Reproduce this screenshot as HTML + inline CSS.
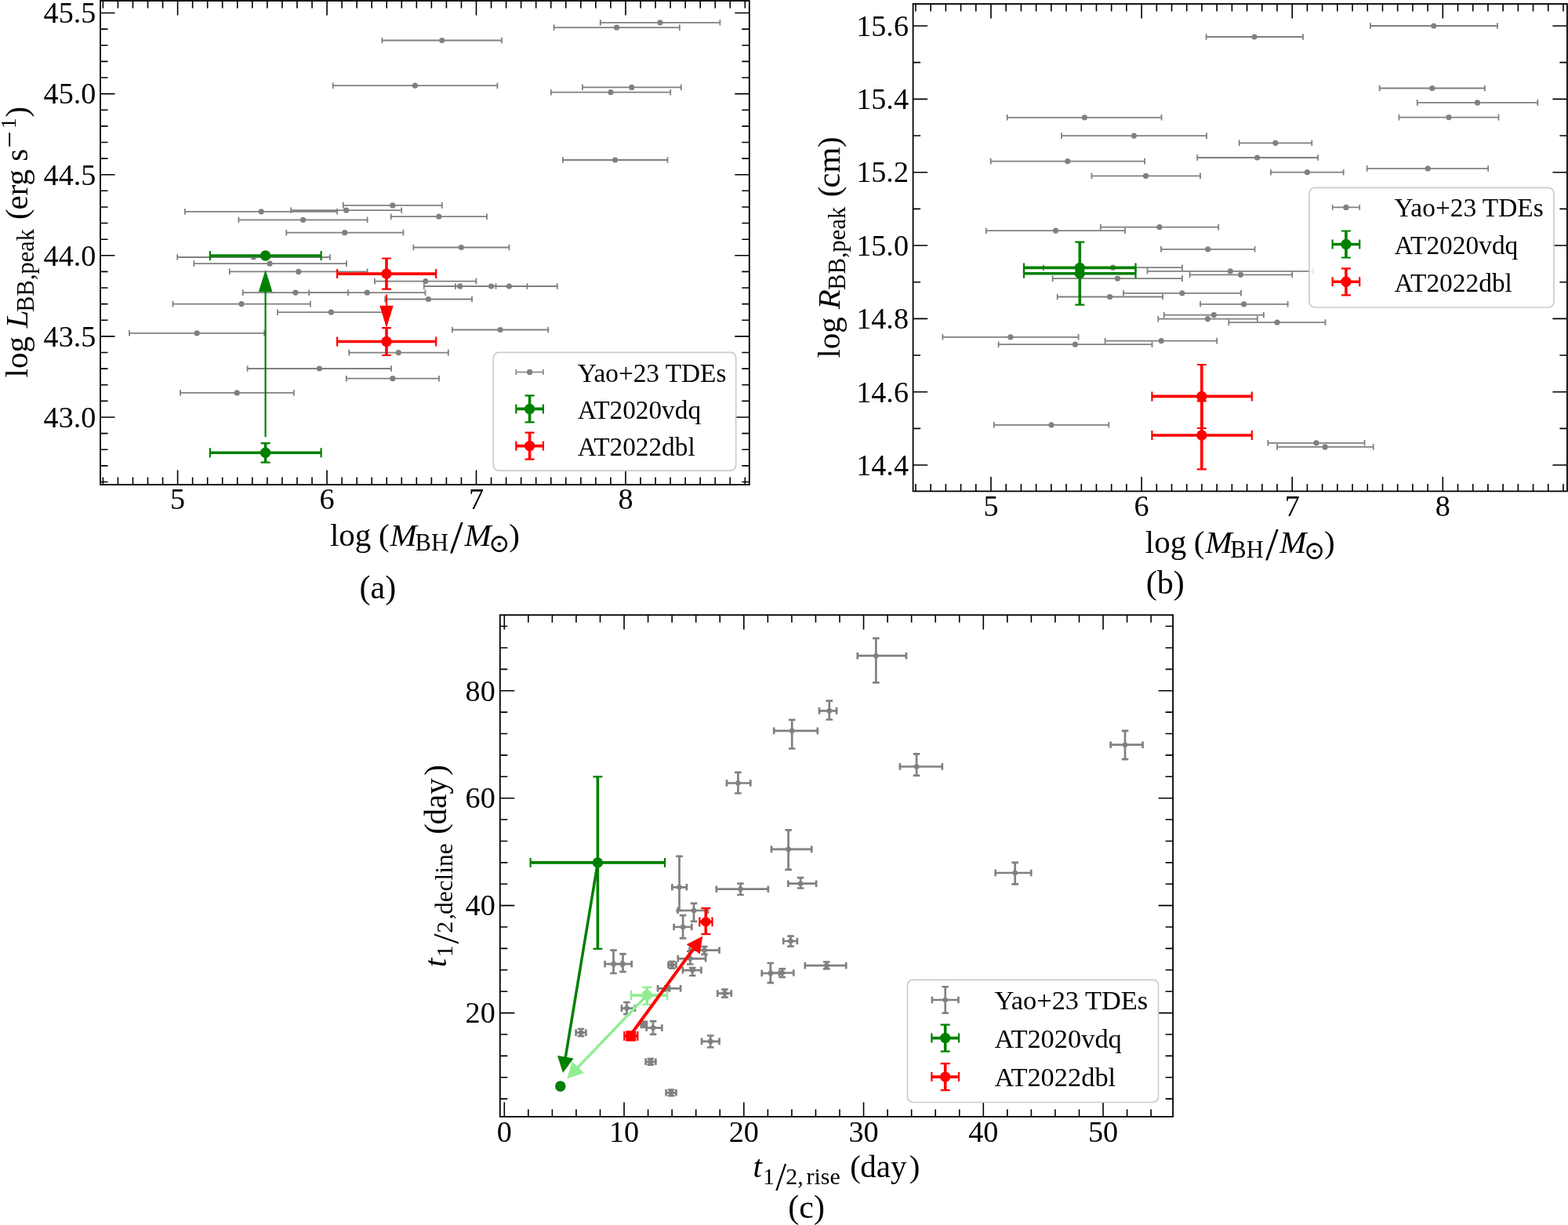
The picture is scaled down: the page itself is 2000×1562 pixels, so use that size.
<!DOCTYPE html>
<html><head><meta charset="utf-8"><title>figure</title>
<style>html,body{margin:0;padding:0;background:#fff;overflow:hidden}svg{display:block}</style></head>
<body><svg width="2000" height="1562" viewBox="0 0 2000 1562" font-family="'Liberation Serif', serif" fill="#000">
<rect width="2000" height="1562" fill="#fff"/>
<clipPath id="ca"><rect x="128.0" y="1.0" width="827.8" height="617.0"/></clipPath>
<g clip-path="url(#ca)">
<path d="M765.8 28.8H918.4" stroke="#808080" stroke-width="1.8" fill="none"/>
<path d="M765.8 25V32.6M918.4 25V32.6" stroke="#808080" stroke-width="1.8" fill="none"/>
<circle cx="842" cy="28.8" r="3.6" fill="#808080"/>
<path d="M706.6 35.1H866.8" stroke="#808080" stroke-width="1.8" fill="none"/>
<path d="M706.6 31.3V38.9M866.8 31.3V38.9" stroke="#808080" stroke-width="1.8" fill="none"/>
<circle cx="786.6" cy="35.1" r="3.6" fill="#808080"/>
<path d="M487.3 51.5H640" stroke="#808080" stroke-width="1.8" fill="none"/>
<path d="M487.3 47.7V55.3M640 47.7V55.3" stroke="#808080" stroke-width="1.8" fill="none"/>
<circle cx="563.7" cy="51.5" r="3.6" fill="#808080"/>
<path d="M424.7 109.2H634.4" stroke="#808080" stroke-width="1.8" fill="none"/>
<path d="M424.7 105.4V113M634.4 105.4V113" stroke="#808080" stroke-width="1.8" fill="none"/>
<circle cx="529.4" cy="109.2" r="3.6" fill="#808080"/>
<path d="M743 111.4H868.8" stroke="#808080" stroke-width="1.8" fill="none"/>
<path d="M743 107.6V115.2M868.8 107.6V115.2" stroke="#808080" stroke-width="1.8" fill="none"/>
<circle cx="805.7" cy="111.4" r="3.6" fill="#808080"/>
<path d="M702.8 117.7H855.2" stroke="#808080" stroke-width="1.8" fill="none"/>
<path d="M702.8 113.9V121.5M855.2 113.9V121.5" stroke="#808080" stroke-width="1.8" fill="none"/>
<circle cx="779" cy="117.7" r="3.6" fill="#808080"/>
<path d="M717.9 204H851.5" stroke="#808080" stroke-width="1.8" fill="none"/>
<path d="M717.9 200.2V207.8M851.5 200.2V207.8" stroke="#808080" stroke-width="1.8" fill="none"/>
<circle cx="784.6" cy="204" r="3.6" fill="#808080"/>
<path d="M437.8 261.9H563.8" stroke="#808080" stroke-width="1.8" fill="none"/>
<path d="M437.8 258.1V265.7M563.8 258.1V265.7" stroke="#808080" stroke-width="1.8" fill="none"/>
<circle cx="500.8" cy="261.9" r="3.6" fill="#808080"/>
<path d="M371.2 268.2H512.2" stroke="#808080" stroke-width="1.8" fill="none"/>
<path d="M371.2 264.4V272M512.2 264.4V272" stroke="#808080" stroke-width="1.8" fill="none"/>
<circle cx="441.6" cy="268.2" r="3.6" fill="#808080"/>
<path d="M235.9 269.8H430" stroke="#808080" stroke-width="1.8" fill="none"/>
<path d="M235.9 266V273.6M430 266V273.6" stroke="#808080" stroke-width="1.8" fill="none"/>
<circle cx="333.2" cy="269.8" r="3.6" fill="#808080"/>
<path d="M498.7 276.2H621" stroke="#808080" stroke-width="1.8" fill="none"/>
<path d="M498.7 272.4V280M621 272.4V280" stroke="#808080" stroke-width="1.8" fill="none"/>
<circle cx="559.8" cy="276.2" r="3.6" fill="#808080"/>
<path d="M304.4 280.3H468.6" stroke="#808080" stroke-width="1.8" fill="none"/>
<path d="M304.4 276.5V284.1M468.6 276.5V284.1" stroke="#808080" stroke-width="1.8" fill="none"/>
<circle cx="386.5" cy="280.3" r="3.6" fill="#808080"/>
<path d="M365.3 296.7H514.4" stroke="#808080" stroke-width="1.8" fill="none"/>
<path d="M365.3 292.9V300.5M514.4 292.9V300.5" stroke="#808080" stroke-width="1.8" fill="none"/>
<circle cx="439.7" cy="296.7" r="3.6" fill="#808080"/>
<path d="M527.3 315.5H649.5" stroke="#808080" stroke-width="1.8" fill="none"/>
<path d="M527.3 311.7V319.3M649.5 311.7V319.3" stroke="#808080" stroke-width="1.8" fill="none"/>
<circle cx="588.3" cy="315.5" r="3.6" fill="#808080"/>
<path d="M226.2 328H421" stroke="#808080" stroke-width="1.8" fill="none"/>
<path d="M226.2 324.2V331.8M421 324.2V331.8" stroke="#808080" stroke-width="1.8" fill="none"/>
<circle cx="323.4" cy="328" r="3.6" fill="#808080"/>
<path d="M247.4 336.1H442" stroke="#808080" stroke-width="1.8" fill="none"/>
<path d="M247.4 332.3V339.9M442 332.3V339.9" stroke="#808080" stroke-width="1.8" fill="none"/>
<circle cx="344.1" cy="336.1" r="3.6" fill="#808080"/>
<path d="M292.8 346.4H468.6" stroke="#808080" stroke-width="1.8" fill="none"/>
<path d="M292.8 342.6V350.2M468.6 342.6V350.2" stroke="#808080" stroke-width="1.8" fill="none"/>
<circle cx="380.7" cy="346.4" r="3.6" fill="#808080"/>
<path d="M477.9 358.6H607.4" stroke="#808080" stroke-width="1.8" fill="none"/>
<path d="M477.9 354.8V362.4M607.4 354.8V362.4" stroke="#808080" stroke-width="1.8" fill="none"/>
<circle cx="542.8" cy="358.6" r="3.6" fill="#808080"/>
<path d="M540.8 365H632.5" stroke="#808080" stroke-width="1.8" fill="none"/>
<path d="M540.8 361.2V368.8M632.5 361.2V368.8" stroke="#808080" stroke-width="1.8" fill="none"/>
<circle cx="586.5" cy="365" r="3.6" fill="#808080"/>
<path d="M580.9 365H672.5" stroke="#808080" stroke-width="1.8" fill="none"/>
<path d="M580.9 361.2V368.8M672.5 361.2V368.8" stroke="#808080" stroke-width="1.8" fill="none"/>
<circle cx="626.5" cy="365" r="3.6" fill="#808080"/>
<path d="M588.2 365H710.8" stroke="#808080" stroke-width="1.8" fill="none"/>
<path d="M588.2 361.2V368.8M710.8 361.2V368.8" stroke="#808080" stroke-width="1.8" fill="none"/>
<circle cx="649.5" cy="365" r="3.6" fill="#808080"/>
<path d="M309.7 373.1H444" stroke="#808080" stroke-width="1.8" fill="none"/>
<path d="M309.7 369.3V376.9M444 369.3V376.9" stroke="#808080" stroke-width="1.8" fill="none"/>
<circle cx="376.9" cy="373.1" r="3.6" fill="#808080"/>
<path d="M394.2 373.2H542.5" stroke="#808080" stroke-width="1.8" fill="none"/>
<path d="M394.2 369.4V377M542.5 369.4V377" stroke="#808080" stroke-width="1.8" fill="none"/>
<circle cx="468.3" cy="373.2" r="3.6" fill="#808080"/>
<path d="M491.2 381.5H602" stroke="#808080" stroke-width="1.8" fill="none"/>
<path d="M491.2 377.7V385.3M602 377.7V385.3" stroke="#808080" stroke-width="1.8" fill="none"/>
<circle cx="546.4" cy="381.5" r="3.6" fill="#808080"/>
<path d="M220.5 387.6H395.9" stroke="#808080" stroke-width="1.8" fill="none"/>
<path d="M220.5 383.8V391.4M395.9 383.8V391.4" stroke="#808080" stroke-width="1.8" fill="none"/>
<circle cx="308" cy="387.6" r="3.6" fill="#808080"/>
<path d="M354.1 398.2H490.5" stroke="#808080" stroke-width="1.8" fill="none"/>
<path d="M354.1 394.4V402M490.5 394.4V402" stroke="#808080" stroke-width="1.8" fill="none"/>
<circle cx="422.3" cy="398.2" r="3.6" fill="#808080"/>
<path d="M165 424.8H337.2" stroke="#808080" stroke-width="1.8" fill="none"/>
<path d="M165 421V428.6M337.2 421V428.6" stroke="#808080" stroke-width="1.8" fill="none"/>
<circle cx="251.2" cy="424.8" r="3.6" fill="#808080"/>
<path d="M576.9 420.5H699.3" stroke="#808080" stroke-width="1.8" fill="none"/>
<path d="M576.9 416.7V424.3M699.3 416.7V424.3" stroke="#808080" stroke-width="1.8" fill="none"/>
<circle cx="638.1" cy="420.5" r="3.6" fill="#808080"/>
<path d="M445.3 449.6H571.8" stroke="#808080" stroke-width="1.8" fill="none"/>
<path d="M445.3 445.8V453.4M571.8 445.8V453.4" stroke="#808080" stroke-width="1.8" fill="none"/>
<circle cx="508.3" cy="449.6" r="3.6" fill="#808080"/>
<path d="M315.6 470H499" stroke="#808080" stroke-width="1.8" fill="none"/>
<path d="M315.6 466.2V473.8M499 466.2V473.8" stroke="#808080" stroke-width="1.8" fill="none"/>
<circle cx="407.3" cy="470" r="3.6" fill="#808080"/>
<path d="M441.8 482.7H560" stroke="#808080" stroke-width="1.8" fill="none"/>
<path d="M441.8 478.9V486.5M560 478.9V486.5" stroke="#808080" stroke-width="1.8" fill="none"/>
<circle cx="500.9" cy="482.7" r="3.6" fill="#808080"/>
<path d="M230 500.9H374.8" stroke="#808080" stroke-width="1.8" fill="none"/>
<path d="M230 497.1V504.7M374.8 497.1V504.7" stroke="#808080" stroke-width="1.8" fill="none"/>
<circle cx="302.3" cy="500.9" r="3.6" fill="#808080"/>
<path d="M267.9 326H409.6" stroke="#008000" stroke-width="3.6" fill="none"/>
<path d="M267.9 320V332M409.6 320V332" stroke="#008000" stroke-width="2.2" fill="none"/>
<circle cx="338.6" cy="326" r="6.7" fill="#008000"/>
<path d="M267.9 577.3H409.6M338.6 565.1V589.6" stroke="#008000" stroke-width="3.6" fill="none"/>
<path d="M267.9 571.3V583.3M409.6 571.3V583.3M332.6 565.1H344.6M332.6 589.6H344.6" stroke="#008000" stroke-width="2.2" fill="none"/>
<circle cx="338.6" cy="577.3" r="6.7" fill="#008000"/>
<path d="M430.1 349.1H556.2M493 329.5V368.6" stroke="#ff0000" stroke-width="3.6" fill="none"/>
<path d="M430.1 343.1V355.1M556.2 343.1V355.1M487 329.5H499M487 368.6H499" stroke="#ff0000" stroke-width="2.2" fill="none"/>
<circle cx="493" cy="349.1" r="6.7" fill="#ff0000"/>
<path d="M430.1 435.5H556.2M493 418.2V453" stroke="#ff0000" stroke-width="3.6" fill="none"/>
<path d="M430.1 429.5V441.5M556.2 429.5V441.5M487 418.2H499M487 453H499" stroke="#ff0000" stroke-width="2.2" fill="none"/>
<circle cx="493" cy="435.5" r="6.7" fill="#ff0000"/>
<line x1="338.6" y1="557.3" x2="338.6" y2="371.4" stroke="#008000" stroke-width="2.2"/>
<polygon points="338.6,343.9 347.35,371.9 329.85,371.9" fill="#008000"/>
<line x1="493" y1="375.5" x2="493" y2="390.3" stroke="#ff0000" stroke-width="2.2"/>
<polygon points="493,418.3 484.35,389.8 501.65,389.8" fill="#ff0000"/>
</g>
<path d="M131.38 618v-9.5M131.38 1v9.5M150.42 618v-9.5M150.42 1v9.5M169.47 618v-9.5M169.47 1v9.5M188.51 618v-9.5M188.51 1v9.5M207.56 618v-9.5M207.56 1v9.5M226.6 618v-9.5M226.6 1v9.5M245.64 618v-9.5M245.64 1v9.5M264.69 618v-9.5M264.69 1v9.5M283.73 618v-9.5M283.73 1v9.5M302.78 618v-9.5M302.78 1v9.5M321.82 618v-9.5M321.82 1v9.5M340.87 618v-9.5M340.87 1v9.5M359.92 618v-9.5M359.92 1v9.5M378.96 618v-9.5M378.96 1v9.5M398.01 618v-9.5M398.01 1v9.5M417.05 618v-9.5M417.05 1v9.5M436.09 618v-9.5M436.09 1v9.5M455.14 618v-9.5M455.14 1v9.5M474.18 618v-9.5M474.18 1v9.5M493.23 618v-9.5M493.23 1v9.5M512.27 618v-9.5M512.27 1v9.5M531.32 618v-9.5M531.32 1v9.5M550.37 618v-9.5M550.37 1v9.5M569.41 618v-9.5M569.41 1v9.5M588.46 618v-9.5M588.46 1v9.5M607.5 618v-9.5M607.5 1v9.5M626.54 618v-9.5M626.54 1v9.5M645.59 618v-9.5M645.59 1v9.5M664.64 618v-9.5M664.64 1v9.5M683.68 618v-9.5M683.68 1v9.5M702.73 618v-9.5M702.73 1v9.5M721.77 618v-9.5M721.77 1v9.5M740.82 618v-9.5M740.82 1v9.5M759.86 618v-9.5M759.86 1v9.5M778.91 618v-9.5M778.91 1v9.5M797.95 618v-9.5M797.95 1v9.5M816.99 618v-9.5M816.99 1v9.5M836.04 618v-9.5M836.04 1v9.5M855.09 618v-9.5M855.09 1v9.5M874.13 618v-9.5M874.13 1v9.5M893.17 618v-9.5M893.17 1v9.5M912.22 618v-9.5M912.22 1v9.5M931.26 618v-9.5M931.26 1v9.5M950.31 618v-9.5M950.31 1v9.5M128 614.48h9.5M955.8 614.48h-9.5M128 593.86h9.5M955.8 593.86h-9.5M128 573.24h9.5M955.8 573.24h-9.5M128 552.62h9.5M955.8 552.62h-9.5M128 532h9.5M955.8 532h-9.5M128 511.38h9.5M955.8 511.38h-9.5M128 490.76h9.5M955.8 490.76h-9.5M128 470.14h9.5M955.8 470.14h-9.5M128 449.52h9.5M955.8 449.52h-9.5M128 428.9h9.5M955.8 428.9h-9.5M128 408.28h9.5M955.8 408.28h-9.5M128 387.66h9.5M955.8 387.66h-9.5M128 367.04h9.5M955.8 367.04h-9.5M128 346.42h9.5M955.8 346.42h-9.5M128 325.8h9.5M955.8 325.8h-9.5M128 305.18h9.5M955.8 305.18h-9.5M128 284.56h9.5M955.8 284.56h-9.5M128 263.94h9.5M955.8 263.94h-9.5M128 243.32h9.5M955.8 243.32h-9.5M128 222.7h9.5M955.8 222.7h-9.5M128 202.08h9.5M955.8 202.08h-9.5M128 181.46h9.5M955.8 181.46h-9.5M128 160.84h9.5M955.8 160.84h-9.5M128 140.22h9.5M955.8 140.22h-9.5M128 119.6h9.5M955.8 119.6h-9.5M128 98.98h9.5M955.8 98.98h-9.5M128 78.36h9.5M955.8 78.36h-9.5M128 57.74h9.5M955.8 57.74h-9.5M128 37.12h9.5M955.8 37.12h-9.5M128 16.5h9.5M955.8 16.5h-9.5M226.6 618v-18.5M226.6 1v18.5M417.05 618v-18.5M417.05 1v18.5M607.5 618v-18.5M607.5 1v18.5M797.95 618v-18.5M797.95 1v18.5M128 532h18.5M955.8 532h-18.5M128 428.9h18.5M955.8 428.9h-18.5M128 325.8h18.5M955.8 325.8h-18.5M128 222.7h18.5M955.8 222.7h-18.5M128 119.6h18.5M955.8 119.6h-18.5M128 16.5h18.5M955.8 16.5h-18.5" stroke="#000" stroke-width="1.6" fill="none"/>
<rect x="128" y="1" width="827.8" height="617" fill="none" stroke="#000" stroke-width="1.8"/>
<rect x="629.3" y="449.4" width="309.4" height="150.7" rx="7" ry="7" fill="#fff" fill-opacity="0.8" stroke="#cccccc" stroke-width="1.7"/>
<path d="M658.3 474.5H692.9" stroke="#808080" stroke-width="1.6" fill="none"/>
<path d="M658.3 470.9V478.1M692.9 470.9V478.1" stroke="#808080" stroke-width="1.6" fill="none"/>
<circle cx="675.6" cy="474.5" r="3.7" fill="#808080"/>
<path d="M658.3 521.4H692.9M675.6 504.4V538.4" stroke="#008000" stroke-width="3.6" fill="none"/>
<path d="M658.3 515.4V527.4M692.9 515.4V527.4M669.6 504.4H681.6M669.6 538.4H681.6" stroke="#008000" stroke-width="2.2" fill="none"/>
<circle cx="675.6" cy="521.4" r="6.7" fill="#008000"/>
<path d="M658.3 568.6H692.9M675.6 551.6V585.6" stroke="#ff0000" stroke-width="3.6" fill="none"/>
<path d="M658.3 562.6V574.6M692.9 562.6V574.6M669.6 551.6H681.6M669.6 585.6H681.6" stroke="#ff0000" stroke-width="2.2" fill="none"/>
<circle cx="675.6" cy="568.6" r="6.7" fill="#ff0000"/>
<text x="736.8" y="486.5" font-size="33.3">Yao+23 TDEs</text>
<text x="736.8" y="533.7" font-size="33.3">AT2020vdq</text>
<text x="736.8" y="581" font-size="33.3">AT2022dbl</text>
<clipPath id="cb"><rect x="1164.6" y="5.0" width="834.3000000000002" height="621.4"/></clipPath>
<g clip-path="url(#cb)">
<path d="M1748 33H1910" stroke="#808080" stroke-width="1.8" fill="none"/>
<path d="M1748 29.2V36.8M1910 29.2V36.8" stroke="#808080" stroke-width="1.8" fill="none"/>
<circle cx="1828.7" cy="33" r="3.6" fill="#808080"/>
<path d="M1538.6 47H1662" stroke="#808080" stroke-width="1.8" fill="none"/>
<path d="M1538.6 43.2V50.8M1662 43.2V50.8" stroke="#808080" stroke-width="1.8" fill="none"/>
<circle cx="1600" cy="47" r="3.6" fill="#808080"/>
<path d="M1759.7 112.5H1893.9" stroke="#808080" stroke-width="1.8" fill="none"/>
<path d="M1759.7 108.7V116.3M1893.9 108.7V116.3" stroke="#808080" stroke-width="1.8" fill="none"/>
<circle cx="1826.8" cy="112.5" r="3.6" fill="#808080"/>
<path d="M1807.7 130.9H1961.3" stroke="#808080" stroke-width="1.8" fill="none"/>
<path d="M1807.7 127.1V134.7M1961.3 127.1V134.7" stroke="#808080" stroke-width="1.8" fill="none"/>
<circle cx="1884.5" cy="130.9" r="3.6" fill="#808080"/>
<path d="M1284.7 149.8H1481.5" stroke="#808080" stroke-width="1.8" fill="none"/>
<path d="M1284.7 146V153.6M1481.5 146V153.6" stroke="#808080" stroke-width="1.8" fill="none"/>
<circle cx="1383.4" cy="149.8" r="3.6" fill="#808080"/>
<path d="M1784.4 149.6H1911.5" stroke="#808080" stroke-width="1.8" fill="none"/>
<path d="M1784.4 145.8V153.4M1911.5 145.8V153.4" stroke="#808080" stroke-width="1.8" fill="none"/>
<circle cx="1848" cy="149.6" r="3.6" fill="#808080"/>
<path d="M1354 173.1H1539" stroke="#808080" stroke-width="1.8" fill="none"/>
<path d="M1354 169.3V176.9M1539 169.3V176.9" stroke="#808080" stroke-width="1.8" fill="none"/>
<circle cx="1446.4" cy="173.1" r="3.6" fill="#808080"/>
<path d="M1580.7 182.3H1673.3" stroke="#808080" stroke-width="1.8" fill="none"/>
<path d="M1580.7 178.5V186.1M1673.3 178.5V186.1" stroke="#808080" stroke-width="1.8" fill="none"/>
<circle cx="1626.9" cy="182.3" r="3.6" fill="#808080"/>
<path d="M1527.1 201H1681" stroke="#808080" stroke-width="1.8" fill="none"/>
<path d="M1527.1 197.2V204.8M1681 197.2V204.8" stroke="#808080" stroke-width="1.8" fill="none"/>
<circle cx="1603.6" cy="201" r="3.6" fill="#808080"/>
<path d="M1263.7 205.6H1460" stroke="#808080" stroke-width="1.8" fill="none"/>
<path d="M1263.7 201.8V209.4M1460 201.8V209.4" stroke="#808080" stroke-width="1.8" fill="none"/>
<circle cx="1361.8" cy="205.6" r="3.6" fill="#808080"/>
<path d="M1743.6 214.9H1898.2" stroke="#808080" stroke-width="1.8" fill="none"/>
<path d="M1743.6 211.1V218.7M1898.2 211.1V218.7" stroke="#808080" stroke-width="1.8" fill="none"/>
<circle cx="1821.2" cy="214.9" r="3.6" fill="#808080"/>
<path d="M1621 219.7H1713.6" stroke="#808080" stroke-width="1.8" fill="none"/>
<path d="M1621 215.9V223.5M1713.6 215.9V223.5" stroke="#808080" stroke-width="1.8" fill="none"/>
<circle cx="1667.4" cy="219.7" r="3.6" fill="#808080"/>
<path d="M1392.4 224.3H1531" stroke="#808080" stroke-width="1.8" fill="none"/>
<path d="M1392.4 220.5V228.1M1531 220.5V228.1" stroke="#808080" stroke-width="1.8" fill="none"/>
<circle cx="1461.5" cy="224.3" r="3.6" fill="#808080"/>
<path d="M1403.8 289.6H1554.2" stroke="#808080" stroke-width="1.8" fill="none"/>
<path d="M1403.8 285.8V293.4M1554.2 285.8V293.4" stroke="#808080" stroke-width="1.8" fill="none"/>
<circle cx="1478.9" cy="289.6" r="3.6" fill="#808080"/>
<path d="M1257.8 294.2H1435" stroke="#808080" stroke-width="1.8" fill="none"/>
<path d="M1257.8 290.4V298M1435 290.4V298" stroke="#808080" stroke-width="1.8" fill="none"/>
<circle cx="1346.6" cy="294.2" r="3.6" fill="#808080"/>
<path d="M1481 317.8H1600.5" stroke="#808080" stroke-width="1.8" fill="none"/>
<path d="M1481 314V321.6M1600.5 314V321.6" stroke="#808080" stroke-width="1.8" fill="none"/>
<circle cx="1540.6" cy="317.8" r="3.6" fill="#808080"/>
<path d="M1331 341.2H1507.9" stroke="#808080" stroke-width="1.8" fill="none"/>
<path d="M1331 337.4V345M1507.9 337.4V345" stroke="#808080" stroke-width="1.8" fill="none"/>
<circle cx="1419.5" cy="341.2" r="3.6" fill="#808080"/>
<path d="M1463.5 345.8H1675" stroke="#808080" stroke-width="1.8" fill="none"/>
<path d="M1463.5 342V349.6M1675 342V349.6" stroke="#808080" stroke-width="1.8" fill="none"/>
<circle cx="1569.3" cy="345.8" r="3.6" fill="#808080"/>
<path d="M1517.6 350.3H1648.2" stroke="#808080" stroke-width="1.8" fill="none"/>
<path d="M1517.6 346.5V354.1M1648.2 346.5V354.1" stroke="#808080" stroke-width="1.8" fill="none"/>
<circle cx="1582.5" cy="350.3" r="3.6" fill="#808080"/>
<path d="M1342.6 355.1H1507.9" stroke="#808080" stroke-width="1.8" fill="none"/>
<path d="M1342.6 351.3V358.9M1507.9 351.3V358.9" stroke="#808080" stroke-width="1.8" fill="none"/>
<circle cx="1425.4" cy="355.1" r="3.6" fill="#808080"/>
<path d="M1433 373.8H1582.9" stroke="#808080" stroke-width="1.8" fill="none"/>
<path d="M1433 370V377.6M1582.9 370V377.6" stroke="#808080" stroke-width="1.8" fill="none"/>
<circle cx="1507.8" cy="373.8" r="3.6" fill="#808080"/>
<path d="M1348.7 378.5H1483" stroke="#808080" stroke-width="1.8" fill="none"/>
<path d="M1348.7 374.7V382.3M1483 374.7V382.3" stroke="#808080" stroke-width="1.8" fill="none"/>
<circle cx="1415.6" cy="378.5" r="3.6" fill="#808080"/>
<path d="M1531 387.8H1642.6" stroke="#808080" stroke-width="1.8" fill="none"/>
<path d="M1531 384V391.6M1642.6 384V391.6" stroke="#808080" stroke-width="1.8" fill="none"/>
<circle cx="1586.6" cy="387.8" r="3.6" fill="#808080"/>
<path d="M1484.7 401.6H1611.8" stroke="#808080" stroke-width="1.8" fill="none"/>
<path d="M1484.7 397.8V405.4M1611.8 397.8V405.4" stroke="#808080" stroke-width="1.8" fill="none"/>
<circle cx="1548.3" cy="401.6" r="3.6" fill="#808080"/>
<path d="M1477.3 406.6H1603.8" stroke="#808080" stroke-width="1.8" fill="none"/>
<path d="M1477.3 402.8V410.4M1603.8 402.8V410.4" stroke="#808080" stroke-width="1.8" fill="none"/>
<circle cx="1540.4" cy="406.6" r="3.6" fill="#808080"/>
<path d="M1567.3 411.1H1690.5" stroke="#808080" stroke-width="1.8" fill="none"/>
<path d="M1567.3 407.3V414.9M1690.5 407.3V414.9" stroke="#808080" stroke-width="1.8" fill="none"/>
<circle cx="1629" cy="411.1" r="3.6" fill="#808080"/>
<path d="M1202.4 429.8H1375.6" stroke="#808080" stroke-width="1.8" fill="none"/>
<path d="M1202.4 426V433.6M1375.6 426V433.6" stroke="#808080" stroke-width="1.8" fill="none"/>
<circle cx="1288.9" cy="429.8" r="3.6" fill="#808080"/>
<path d="M1409.6 434.6H1552.2" stroke="#808080" stroke-width="1.8" fill="none"/>
<path d="M1409.6 430.8V438.4M1552.2 430.8V438.4" stroke="#808080" stroke-width="1.8" fill="none"/>
<circle cx="1481.1" cy="434.6" r="3.6" fill="#808080"/>
<path d="M1273.6 439.2H1469.5" stroke="#808080" stroke-width="1.8" fill="none"/>
<path d="M1273.6 435.4V443M1469.5 435.4V443" stroke="#808080" stroke-width="1.8" fill="none"/>
<circle cx="1371.4" cy="439.2" r="3.6" fill="#808080"/>
<path d="M1267.9 541.8H1414.3" stroke="#808080" stroke-width="1.8" fill="none"/>
<path d="M1267.9 538V545.6M1414.3 538V545.6" stroke="#808080" stroke-width="1.8" fill="none"/>
<circle cx="1341" cy="541.8" r="3.6" fill="#808080"/>
<path d="M1617.3 564.8H1740.5" stroke="#808080" stroke-width="1.8" fill="none"/>
<path d="M1617.3 561V568.6M1740.5 561V568.6" stroke="#808080" stroke-width="1.8" fill="none"/>
<circle cx="1678.9" cy="564.8" r="3.6" fill="#808080"/>
<path d="M1629 569.9H1751.7" stroke="#808080" stroke-width="1.8" fill="none"/>
<path d="M1629 566.1V573.7M1751.7 566.1V573.7" stroke="#808080" stroke-width="1.8" fill="none"/>
<circle cx="1690.1" cy="569.9" r="3.6" fill="#808080"/>
<path d="M1306 341.4H1448.5" stroke="#008000" stroke-width="3.6" fill="none"/>
<path d="M1306 335.4V347.4M1448.5 335.4V347.4" stroke="#008000" stroke-width="2.2" fill="none"/>
<circle cx="1377.3" cy="341.4" r="6.7" fill="#008000"/>
<path d="M1306 348.8H1448.5M1377.3 308.7V388.6" stroke="#008000" stroke-width="3.6" fill="none"/>
<path d="M1306 342.8V354.8M1448.5 342.8V354.8M1371.3 308.7H1383.3M1371.3 388.6H1383.3" stroke="#008000" stroke-width="2.2" fill="none"/>
<circle cx="1377.3" cy="348.8" r="6.7" fill="#008000"/>
<path d="M1469.4 505.4H1596.8M1532.8 465V546" stroke="#ff0000" stroke-width="3.6" fill="none"/>
<path d="M1469.4 499.4V511.4M1596.8 499.4V511.4M1526.8 465H1538.8M1526.8 546H1538.8" stroke="#ff0000" stroke-width="2.2" fill="none"/>
<circle cx="1532.8" cy="505.4" r="6.7" fill="#ff0000"/>
<path d="M1469.4 555H1596.8M1532.8 511.3V598.4" stroke="#ff0000" stroke-width="3.6" fill="none"/>
<path d="M1469.4 549V561M1596.8 549V561M1526.8 511.3H1538.8M1526.8 598.4H1538.8" stroke="#ff0000" stroke-width="2.2" fill="none"/>
<circle cx="1532.8" cy="555" r="6.7" fill="#ff0000"/>
</g>
<path d="M1167.95 626.4v-9.5M1167.95 5v9.5M1187.16 626.4v-9.5M1187.16 5v9.5M1206.37 626.4v-9.5M1206.37 5v9.5M1225.58 626.4v-9.5M1225.58 5v9.5M1244.79 626.4v-9.5M1244.79 5v9.5M1264 626.4v-9.5M1264 5v9.5M1283.21 626.4v-9.5M1283.21 5v9.5M1302.42 626.4v-9.5M1302.42 5v9.5M1321.63 626.4v-9.5M1321.63 5v9.5M1340.84 626.4v-9.5M1340.84 5v9.5M1360.05 626.4v-9.5M1360.05 5v9.5M1379.26 626.4v-9.5M1379.26 5v9.5M1398.47 626.4v-9.5M1398.47 5v9.5M1417.68 626.4v-9.5M1417.68 5v9.5M1436.89 626.4v-9.5M1436.89 5v9.5M1456.1 626.4v-9.5M1456.1 5v9.5M1475.31 626.4v-9.5M1475.31 5v9.5M1494.52 626.4v-9.5M1494.52 5v9.5M1513.73 626.4v-9.5M1513.73 5v9.5M1532.94 626.4v-9.5M1532.94 5v9.5M1552.15 626.4v-9.5M1552.15 5v9.5M1571.36 626.4v-9.5M1571.36 5v9.5M1590.57 626.4v-9.5M1590.57 5v9.5M1609.78 626.4v-9.5M1609.78 5v9.5M1628.99 626.4v-9.5M1628.99 5v9.5M1648.2 626.4v-9.5M1648.2 5v9.5M1667.41 626.4v-9.5M1667.41 5v9.5M1686.62 626.4v-9.5M1686.62 5v9.5M1705.83 626.4v-9.5M1705.83 5v9.5M1725.04 626.4v-9.5M1725.04 5v9.5M1744.25 626.4v-9.5M1744.25 5v9.5M1763.46 626.4v-9.5M1763.46 5v9.5M1782.67 626.4v-9.5M1782.67 5v9.5M1801.88 626.4v-9.5M1801.88 5v9.5M1821.09 626.4v-9.5M1821.09 5v9.5M1840.3 626.4v-9.5M1840.3 5v9.5M1859.51 626.4v-9.5M1859.51 5v9.5M1878.72 626.4v-9.5M1878.72 5v9.5M1897.93 626.4v-9.5M1897.93 5v9.5M1917.14 626.4v-9.5M1917.14 5v9.5M1936.35 626.4v-9.5M1936.35 5v9.5M1955.56 626.4v-9.5M1955.56 5v9.5M1974.77 626.4v-9.5M1974.77 5v9.5M1993.98 626.4v-9.5M1993.98 5v9.5M1164.6 593.04h9.5M1998.9 593.04h-9.5M1164.6 546.37h9.5M1998.9 546.37h-9.5M1164.6 499.7h9.5M1998.9 499.7h-9.5M1164.6 453.03h9.5M1998.9 453.03h-9.5M1164.6 406.36h9.5M1998.9 406.36h-9.5M1164.6 359.69h9.5M1998.9 359.69h-9.5M1164.6 313.02h9.5M1998.9 313.02h-9.5M1164.6 266.35h9.5M1998.9 266.35h-9.5M1164.6 219.68h9.5M1998.9 219.68h-9.5M1164.6 173.01h9.5M1998.9 173.01h-9.5M1164.6 126.34h9.5M1998.9 126.34h-9.5M1164.6 79.67h9.5M1998.9 79.67h-9.5M1164.6 33h9.5M1998.9 33h-9.5M1264 626.4v-18.5M1264 5v18.5M1456.1 626.4v-18.5M1456.1 5v18.5M1648.2 626.4v-18.5M1648.2 5v18.5M1840.3 626.4v-18.5M1840.3 5v18.5M1164.6 593.04h18.5M1998.9 593.04h-18.5M1164.6 499.7h18.5M1998.9 499.7h-18.5M1164.6 406.36h18.5M1998.9 406.36h-18.5M1164.6 313.02h18.5M1998.9 313.02h-18.5M1164.6 219.68h18.5M1998.9 219.68h-18.5M1164.6 126.34h18.5M1998.9 126.34h-18.5M1164.6 33h18.5M1998.9 33h-18.5" stroke="#000" stroke-width="1.6" fill="none"/>
<rect x="1164.6" y="5" width="834.3" height="621.4" fill="none" stroke="#000" stroke-width="1.8"/>
<rect x="1670.1" y="239.4" width="311.9" height="152.6" rx="7" ry="7" fill="#fff" fill-opacity="0.8" stroke="#cccccc" stroke-width="1.7"/>
<path d="M1699.6 264.4H1734.2" stroke="#808080" stroke-width="1.6" fill="none"/>
<path d="M1699.6 260.8V268M1734.2 260.8V268" stroke="#808080" stroke-width="1.6" fill="none"/>
<circle cx="1716.9" cy="264.4" r="3.7" fill="#808080"/>
<path d="M1699.6 311.5H1734.2M1716.9 294.5V328.5" stroke="#008000" stroke-width="3.6" fill="none"/>
<path d="M1699.6 305.5V317.5M1734.2 305.5V317.5M1710.9 294.5H1722.9M1710.9 328.5H1722.9" stroke="#008000" stroke-width="2.2" fill="none"/>
<circle cx="1716.9" cy="311.5" r="6.7" fill="#008000"/>
<path d="M1699.6 359.3H1734.2M1716.9 342.3V376.3" stroke="#ff0000" stroke-width="3.6" fill="none"/>
<path d="M1699.6 353.3V365.3M1734.2 353.3V365.3M1710.9 342.3H1722.9M1710.9 376.3H1722.9" stroke="#ff0000" stroke-width="2.2" fill="none"/>
<circle cx="1716.9" cy="359.3" r="6.7" fill="#ff0000"/>
<text x="1778.6" y="276.4" font-size="33.4">Yao+23 TDEs</text>
<text x="1778.6" y="323.7" font-size="33.4">AT2020vdq</text>
<text x="1778.6" y="371.7" font-size="33.4">AT2022dbl</text>
<clipPath id="cc"><rect x="637.8" y="784.2" width="858.3" height="639.7"/></clipPath>
<g clip-path="url(#cc)">
<path d="M1093.8 836.2H1155.9M1117.3 813.8V870.4" stroke="#808080" stroke-width="2.7" fill="none"/>
<path d="M1093.8 831.9V840.5M1155.9 831.9V840.5M1113 813.8H1121.6M1113 870.4H1121.6" stroke="#808080" stroke-width="2.7" fill="none"/>
<circle cx="1117.3" cy="836.2" r="3.3" fill="#808080"/>
<path d="M1045 906.4H1067.1M1057.8 893.7V917.5" stroke="#808080" stroke-width="2.7" fill="none"/>
<path d="M1045 902.1V910.7M1067.1 902.1V910.7M1053.5 893.7H1062.1M1053.5 917.5H1062.1" stroke="#808080" stroke-width="2.7" fill="none"/>
<circle cx="1057.8" cy="906.4" r="3.3" fill="#808080"/>
<path d="M987.2 931.9H1042.8M1010.2 917.8V954.5" stroke="#808080" stroke-width="2.7" fill="none"/>
<path d="M987.2 927.6V936.2M1042.8 927.6V936.2M1005.9 917.8H1014.5M1005.9 954.5H1014.5" stroke="#808080" stroke-width="2.7" fill="none"/>
<circle cx="1010.2" cy="931.9" r="3.3" fill="#808080"/>
<path d="M1147.9 977.5H1201.8M1169.1 961.3V988.9" stroke="#808080" stroke-width="2.7" fill="none"/>
<path d="M1147.9 973.2V981.8M1201.8 973.2V981.8M1164.8 961.3H1173.4M1164.8 988.9H1173.4" stroke="#808080" stroke-width="2.7" fill="none"/>
<circle cx="1169.1" cy="977.5" r="3.3" fill="#808080"/>
<path d="M927 998.5H957.3M941.4 984.8V1011.5" stroke="#808080" stroke-width="2.7" fill="none"/>
<path d="M927 994.2V1002.8M957.3 994.2V1002.8M937.1 984.8H945.7M937.1 1011.5H945.7" stroke="#808080" stroke-width="2.7" fill="none"/>
<circle cx="941.4" cy="998.5" r="3.3" fill="#808080"/>
<path d="M1416.6 949.7H1457.6M1435 931.9V968.1" stroke="#808080" stroke-width="2.7" fill="none"/>
<path d="M1416.6 945.4V954M1457.6 945.4V954M1430.7 931.9H1439.3M1430.7 968.1H1439.3" stroke="#808080" stroke-width="2.7" fill="none"/>
<circle cx="1435" cy="949.7" r="3.3" fill="#808080"/>
<path d="M984 1082.9H1035.2M1005.6 1058.4V1108.8" stroke="#808080" stroke-width="2.7" fill="none"/>
<path d="M984 1078.6V1087.2M1035.2 1078.6V1087.2M1001.3 1058.4H1009.9M1001.3 1108.8H1009.9" stroke="#808080" stroke-width="2.7" fill="none"/>
<circle cx="1005.6" cy="1082.9" r="3.3" fill="#808080"/>
<path d="M857.3 1131.3H875.9M866.5 1091.9V1161" stroke="#808080" stroke-width="2.7" fill="none"/>
<path d="M857.3 1127V1135.6M875.9 1127V1135.6M862.2 1091.9H870.8M862.2 1161H870.8" stroke="#808080" stroke-width="2.7" fill="none"/>
<circle cx="866.5" cy="1131.3" r="3.3" fill="#808080"/>
<path d="M913.8 1133.7H979.8M944.5 1126.5V1141" stroke="#808080" stroke-width="2.7" fill="none"/>
<path d="M913.8 1129.4V1138M979.8 1129.4V1138M940.2 1126.5H948.8M940.2 1141H948.8" stroke="#808080" stroke-width="2.7" fill="none"/>
<circle cx="944.5" cy="1133.7" r="3.3" fill="#808080"/>
<path d="M1005.3 1126.7H1041.1M1021.1 1119.2V1132.5" stroke="#808080" stroke-width="2.7" fill="none"/>
<path d="M1005.3 1122.4V1131M1041.1 1122.4V1131M1016.8 1119.2H1025.4M1016.8 1132.5H1025.4" stroke="#808080" stroke-width="2.7" fill="none"/>
<circle cx="1021.1" cy="1126.7" r="3.3" fill="#808080"/>
<path d="M1269.7 1113H1315.2M1294.7 1099.9V1127.3" stroke="#808080" stroke-width="2.7" fill="none"/>
<path d="M1269.7 1108.7V1117.3M1315.2 1108.7V1117.3M1290.4 1099.9H1299M1290.4 1127.3H1299" stroke="#808080" stroke-width="2.7" fill="none"/>
<circle cx="1294.7" cy="1113" r="3.3" fill="#808080"/>
<path d="M864.6 1161H903M885 1151.9V1174.9" stroke="#808080" stroke-width="2.7" fill="none"/>
<path d="M864.6 1156.7V1165.3M903 1156.7V1165.3M880.7 1151.9H889.3M880.7 1174.9H889.3" stroke="#808080" stroke-width="2.7" fill="none"/>
<circle cx="885" cy="1161" r="3.3" fill="#808080"/>
<path d="M859.6 1182H882.3M871.1 1167.2V1196.3" stroke="#808080" stroke-width="2.7" fill="none"/>
<path d="M859.6 1177.7V1186.3M882.3 1177.7V1186.3M866.8 1167.2H875.4M866.8 1196.3H875.4" stroke="#808080" stroke-width="2.7" fill="none"/>
<circle cx="871.1" cy="1182" r="3.3" fill="#808080"/>
<path d="M999.2 1200H1016.8M1008.5 1193.6V1206.7" stroke="#808080" stroke-width="2.7" fill="none"/>
<path d="M999.2 1195.7V1204.3M1016.8 1195.7V1204.3M1004.2 1193.6H1012.8M1004.2 1206.7H1012.8" stroke="#808080" stroke-width="2.7" fill="none"/>
<circle cx="1008.5" cy="1200" r="3.3" fill="#808080"/>
<path d="M879.5 1211.7H917.5M898.5 1207V1216.8" stroke="#808080" stroke-width="2.7" fill="none"/>
<path d="M879.5 1207.4V1216M917.5 1207.4V1216M894.2 1207H902.8M894.2 1216.8H902.8" stroke="#808080" stroke-width="2.7" fill="none"/>
<circle cx="898.5" cy="1211.7" r="3.3" fill="#808080"/>
<path d="M864.8 1222.3H900.1M880.3 1213V1229.5" stroke="#808080" stroke-width="2.7" fill="none"/>
<path d="M864.8 1218V1226.6M900.1 1218V1226.6M876 1213H884.6M876 1229.5H884.6" stroke="#808080" stroke-width="2.7" fill="none"/>
<circle cx="880.3" cy="1222.3" r="3.3" fill="#808080"/>
<path d="M852.5 1230.3H862.5M857.2 1226V1234.7" stroke="#808080" stroke-width="2.7" fill="none"/>
<path d="M852.5 1226V1234.6M862.5 1226V1234.6M852.9 1226H861.5M852.9 1234.7H861.5" stroke="#808080" stroke-width="2.7" fill="none"/>
<circle cx="857.2" cy="1230.3" r="3.3" fill="#808080"/>
<path d="M870.9 1237.1H894.4M883.2 1234V1244" stroke="#808080" stroke-width="2.7" fill="none"/>
<path d="M870.9 1232.8V1241.4M894.4 1232.8V1241.4M878.9 1234H887.5M878.9 1244H887.5" stroke="#808080" stroke-width="2.7" fill="none"/>
<circle cx="883.2" cy="1237.1" r="3.3" fill="#808080"/>
<path d="M771.6 1229.2H793M782.5 1211.6V1241" stroke="#808080" stroke-width="2.7" fill="none"/>
<path d="M771.6 1224.9V1233.5M793 1224.9V1233.5M778.2 1211.6H786.8M778.2 1241H786.8" stroke="#808080" stroke-width="2.7" fill="none"/>
<circle cx="782.5" cy="1229.2" r="3.3" fill="#808080"/>
<path d="M783.2 1229.2H805.7M794.5 1216.4V1239.1" stroke="#808080" stroke-width="2.7" fill="none"/>
<path d="M783.2 1224.9V1233.5M805.7 1224.9V1233.5M790.2 1216.4H798.8M790.2 1239.1H798.8" stroke="#808080" stroke-width="2.7" fill="none"/>
<circle cx="794.5" cy="1229.2" r="3.3" fill="#808080"/>
<path d="M971.7 1241H994M982.8 1228V1253.2" stroke="#808080" stroke-width="2.7" fill="none"/>
<path d="M971.7 1236.7V1245.3M994 1236.7V1245.3M978.5 1228H987.1M978.5 1253.2H987.1" stroke="#808080" stroke-width="2.7" fill="none"/>
<circle cx="982.8" cy="1241" r="3.3" fill="#808080"/>
<path d="M983.3 1240.5H1012.3M997.8 1235.4V1246" stroke="#808080" stroke-width="2.7" fill="none"/>
<path d="M983.3 1236.2V1244.8M1012.3 1236.2V1244.8M993.5 1235.4H1002.1M993.5 1246H1002.1" stroke="#808080" stroke-width="2.7" fill="none"/>
<circle cx="997.8" cy="1240.5" r="3.3" fill="#808080"/>
<path d="M1026.8 1231.2H1079.2M1054.3 1226.5V1235.3" stroke="#808080" stroke-width="2.7" fill="none"/>
<path d="M1026.8 1226.9V1235.5M1079.2 1226.9V1235.5M1050 1226.5H1058.6M1050 1235.3H1058.6" stroke="#808080" stroke-width="2.7" fill="none"/>
<circle cx="1054.3" cy="1231.2" r="3.3" fill="#808080"/>
<path d="M839 1260.4H868.1M851.2 1257.5V1263.3" stroke="#808080" stroke-width="2.7" fill="none"/>
<path d="M839 1256.1V1264.7M868.1 1256.1V1264.7M846.9 1257.5H855.5M846.9 1263.3H855.5" stroke="#808080" stroke-width="2.7" fill="none"/>
<circle cx="851.2" cy="1260.4" r="3.3" fill="#808080"/>
<path d="M915.2 1266.6H932.8M924.4 1261.6V1271.7" stroke="#808080" stroke-width="2.7" fill="none"/>
<path d="M915.2 1262.3V1270.9M932.8 1262.3V1270.9M920.1 1261.6H928.7M920.1 1271.7H928.7" stroke="#808080" stroke-width="2.7" fill="none"/>
<circle cx="924.4" cy="1266.6" r="3.3" fill="#808080"/>
<path d="M792.9 1285.6H809.9M799.4 1278V1293.2" stroke="#808080" stroke-width="2.7" fill="none"/>
<path d="M792.9 1281.3V1289.9M809.9 1281.3V1289.9M795.1 1278H803.7M795.1 1293.2H803.7" stroke="#808080" stroke-width="2.7" fill="none"/>
<circle cx="799.4" cy="1285.6" r="3.3" fill="#808080"/>
<path d="M817.5 1306.3H825M821.2 1302.5V1310" stroke="#808080" stroke-width="2.7" fill="none"/>
<path d="M817.5 1302V1310.6M825 1302V1310.6M816.9 1302.5H825.5M816.9 1310H825.5" stroke="#808080" stroke-width="2.7" fill="none"/>
<circle cx="821.2" cy="1306.3" r="3.3" fill="#808080"/>
<path d="M824.6 1310.6H844.3M833 1302.1V1318.9" stroke="#808080" stroke-width="2.7" fill="none"/>
<path d="M824.6 1306.3V1314.9M844.3 1306.3V1314.9M828.7 1302.1H837.3M828.7 1318.9H837.3" stroke="#808080" stroke-width="2.7" fill="none"/>
<circle cx="833" cy="1310.6" r="3.3" fill="#808080"/>
<path d="M734.6 1316.7H747.4M741 1312V1321.2" stroke="#808080" stroke-width="2.7" fill="none"/>
<path d="M734.6 1312.4V1321M747.4 1312.4V1321M736.7 1312H745.3M736.7 1321.2H745.3" stroke="#808080" stroke-width="2.7" fill="none"/>
<circle cx="741" cy="1316.7" r="3.3" fill="#808080"/>
<path d="M895.1 1327.9H917.5M906.2 1320.5V1335.5" stroke="#808080" stroke-width="2.7" fill="none"/>
<path d="M895.1 1323.6V1332.2M917.5 1323.6V1332.2M901.9 1320.5H910.5M901.9 1335.5H910.5" stroke="#808080" stroke-width="2.7" fill="none"/>
<circle cx="906.2" cy="1327.9" r="3.3" fill="#808080"/>
<path d="M823.6 1353.8H836.4M829.8 1350V1357.6" stroke="#808080" stroke-width="2.7" fill="none"/>
<path d="M823.6 1349.5V1358.1M836.4 1349.5V1358.1M825.5 1350H834.1M825.5 1357.6H834.1" stroke="#808080" stroke-width="2.7" fill="none"/>
<circle cx="829.8" cy="1353.8" r="3.3" fill="#808080"/>
<path d="M849.6 1393.3H862.4M856 1389.5V1397.1" stroke="#808080" stroke-width="2.7" fill="none"/>
<path d="M849.6 1389V1397.6M862.4 1389V1397.6M851.7 1389.5H860.3M851.7 1397.1H860.3" stroke="#808080" stroke-width="2.7" fill="none"/>
<circle cx="856" cy="1393.3" r="3.3" fill="#808080"/>
<path d="M676.6 1099.9H848.1M762.4 990.3V1209.8" stroke="#008000" stroke-width="3.6" fill="none"/>
<path d="M676.6 1093.9V1105.9M848.1 1093.9V1105.9M756.4 990.3H768.4M756.4 1209.8H768.4" stroke="#008000" stroke-width="2.2" fill="none"/>
<circle cx="762.4" cy="1099.9" r="6.7" fill="#008000"/>
<path d="M804.9 1269.1H851.2M825.2 1258.9V1280.8" stroke="#90ee90" stroke-width="3.6" fill="none"/>
<path d="M804.9 1263.1V1275.1M851.2 1263.1V1275.1M819.2 1258.9H831.2M819.2 1280.8H831.2" stroke="#90ee90" stroke-width="2.2" fill="none"/>
<circle cx="825.2" cy="1269.1" r="6.7" fill="#90ee90"/>
<path d="M892.3 1175.4H908.5M900.3 1158.1V1191.2" stroke="#ff0000" stroke-width="3.6" fill="none"/>
<path d="M892.3 1169.4V1181.4M908.5 1169.4V1181.4M894.3 1158.1H906.3M894.3 1191.2H906.3" stroke="#ff0000" stroke-width="2.2" fill="none"/>
<circle cx="900.3" cy="1175.4" r="6.2" fill="#ff0000"/>
<path d="M796.3 1321H813.3M804.8 1315.5V1326.5" stroke="#ff0000" stroke-width="3.6" fill="none"/>
<path d="M796.3 1315V1327M813.3 1315V1327M798.8 1315.5H810.8M798.8 1326.5H810.8" stroke="#ff0000" stroke-width="2.2" fill="none"/>
<rect x="798.3" y="1314.5" width="13" height="13" fill="#ff0000"/>
<circle cx="714.8" cy="1385.1" r="6.8" fill="#008000"/>
<line x1="762.4" y1="1100" x2="721.27" y2="1348.27" stroke="#008000" stroke-width="3.5"/>
<polygon points="718,1368 710.99,1346.06 731.71,1349.49" fill="#008000"/>
<line x1="825.2" y1="1269.1" x2="737.04" y2="1361.06" stroke="#90ee90" stroke-width="3.5"/>
<polygon points="723.2,1375.5 729.81,1353.44 744.97,1367.97" fill="#90ee90"/>
<line x1="805.5" y1="1318" x2="884.4" y2="1209.95" stroke="#ff0000" stroke-width="4"/>
<polygon points="896.2,1193.8 892.59,1216.55 875.63,1204.16" fill="#ff0000"/>
</g>
<path d="M643.3 1423.9v-9.5M643.3 784.2v9.5M673.85 1423.9v-9.5M673.85 784.2v9.5M704.4 1423.9v-9.5M704.4 784.2v9.5M734.95 1423.9v-9.5M734.95 784.2v9.5M765.5 1423.9v-9.5M765.5 784.2v9.5M796.05 1423.9v-9.5M796.05 784.2v9.5M826.6 1423.9v-9.5M826.6 784.2v9.5M857.15 1423.9v-9.5M857.15 784.2v9.5M887.7 1423.9v-9.5M887.7 784.2v9.5M918.25 1423.9v-9.5M918.25 784.2v9.5M948.8 1423.9v-9.5M948.8 784.2v9.5M979.35 1423.9v-9.5M979.35 784.2v9.5M1009.9 1423.9v-9.5M1009.9 784.2v9.5M1040.45 1423.9v-9.5M1040.45 784.2v9.5M1071 1423.9v-9.5M1071 784.2v9.5M1101.55 1423.9v-9.5M1101.55 784.2v9.5M1132.1 1423.9v-9.5M1132.1 784.2v9.5M1162.65 1423.9v-9.5M1162.65 784.2v9.5M1193.2 1423.9v-9.5M1193.2 784.2v9.5M1223.75 1423.9v-9.5M1223.75 784.2v9.5M1254.3 1423.9v-9.5M1254.3 784.2v9.5M1284.85 1423.9v-9.5M1284.85 784.2v9.5M1315.4 1423.9v-9.5M1315.4 784.2v9.5M1345.95 1423.9v-9.5M1345.95 784.2v9.5M1376.5 1423.9v-9.5M1376.5 784.2v9.5M1407.05 1423.9v-9.5M1407.05 784.2v9.5M1437.6 1423.9v-9.5M1437.6 784.2v9.5M1468.15 1423.9v-9.5M1468.15 784.2v9.5M637.8 1401.17h9.5M1496.1 1401.17h-9.5M637.8 1373.78h9.5M1496.1 1373.78h-9.5M637.8 1346.38h9.5M1496.1 1346.38h-9.5M637.8 1318.99h9.5M1496.1 1318.99h-9.5M637.8 1291.6h9.5M1496.1 1291.6h-9.5M637.8 1264.21h9.5M1496.1 1264.21h-9.5M637.8 1236.82h9.5M1496.1 1236.82h-9.5M637.8 1209.42h9.5M1496.1 1209.42h-9.5M637.8 1182.03h9.5M1496.1 1182.03h-9.5M637.8 1154.64h9.5M1496.1 1154.64h-9.5M637.8 1127.25h9.5M1496.1 1127.25h-9.5M637.8 1099.86h9.5M1496.1 1099.86h-9.5M637.8 1072.46h9.5M1496.1 1072.46h-9.5M637.8 1045.07h9.5M1496.1 1045.07h-9.5M637.8 1017.68h9.5M1496.1 1017.68h-9.5M637.8 990.29h9.5M1496.1 990.29h-9.5M637.8 962.9h9.5M1496.1 962.9h-9.5M637.8 935.5h9.5M1496.1 935.5h-9.5M637.8 908.11h9.5M1496.1 908.11h-9.5M637.8 880.72h9.5M1496.1 880.72h-9.5M637.8 853.33h9.5M1496.1 853.33h-9.5M637.8 825.94h9.5M1496.1 825.94h-9.5M637.8 798.54h9.5M1496.1 798.54h-9.5M643.3 1423.9v-18.5M643.3 784.2v18.5M796.05 1423.9v-18.5M796.05 784.2v18.5M948.8 1423.9v-18.5M948.8 784.2v18.5M1101.55 1423.9v-18.5M1101.55 784.2v18.5M1254.3 1423.9v-18.5M1254.3 784.2v18.5M1407.05 1423.9v-18.5M1407.05 784.2v18.5M637.8 1291.6h18.5M1496.1 1291.6h-18.5M637.8 1154.64h18.5M1496.1 1154.64h-18.5M637.8 1017.68h18.5M1496.1 1017.68h-18.5M637.8 880.72h18.5M1496.1 880.72h-18.5" stroke="#000" stroke-width="1.6" fill="none"/>
<rect x="637.8" y="784.2" width="858.3" height="639.7" fill="none" stroke="#000" stroke-width="1.8"/>
<rect x="1157.5" y="1249.3" width="320" height="156.2" rx="7" ry="7" fill="#fff" fill-opacity="0.8" stroke="#cccccc" stroke-width="1.7"/>
<path d="M1188.9 1275H1222.5M1205.7 1258.2V1291.8" stroke="#808080" stroke-width="2.6" fill="none"/>
<path d="M1188.9 1270.7V1279.3M1222.5 1270.7V1279.3M1201.4 1258.2H1210M1201.4 1291.8H1210" stroke="#808080" stroke-width="2.6" fill="none"/>
<circle cx="1205.7" cy="1275" r="3.3" fill="#808080"/>
<path d="M1188.4 1323.6H1223M1205.7 1306.6V1340.6" stroke="#008000" stroke-width="3.6" fill="none"/>
<path d="M1188.4 1317.6V1329.6M1223 1317.6V1329.6M1199.7 1306.6H1211.7M1199.7 1340.6H1211.7" stroke="#008000" stroke-width="2.2" fill="none"/>
<circle cx="1205.7" cy="1323.6" r="6.7" fill="#008000"/>
<path d="M1188.4 1373.1H1223M1205.7 1356.1V1390.1" stroke="#ff0000" stroke-width="3.6" fill="none"/>
<path d="M1188.4 1367.1V1379.1M1223 1367.1V1379.1M1199.7 1356.1H1211.7M1199.7 1390.1H1211.7" stroke="#ff0000" stroke-width="2.2" fill="none"/>
<circle cx="1205.7" cy="1373.1" r="6.7" fill="#ff0000"/>
<text x="1268.4" y="1287.4" font-size="34.4">Yao+23 TDEs</text>
<text x="1268.4" y="1336.4" font-size="34.4">AT2020vdq</text>
<text x="1268.4" y="1385" font-size="34.4">AT2022dbl</text>
<text x="122.4" y="544.8" font-size="38.2" text-anchor="end">43.0</text>
<text x="122.4" y="441.7" font-size="38.2" text-anchor="end">43.5</text>
<text x="122.4" y="338.6" font-size="38.2" text-anchor="end">44.0</text>
<text x="122.4" y="235.5" font-size="38.2" text-anchor="end">44.5</text>
<text x="122.4" y="132.4" font-size="38.2" text-anchor="end">45.0</text>
<text x="122.4" y="29.3" font-size="38.2" text-anchor="end">45.5</text>
<text x="226.6" y="649.4" font-size="38.2" text-anchor="middle">5</text>
<text x="417.05" y="649.4" font-size="38.2" text-anchor="middle">6</text>
<text x="607.5" y="649.4" font-size="38.2" text-anchor="middle">7</text>
<text x="797.95" y="649.4" font-size="38.2" text-anchor="middle">8</text>
<text x="1159" y="605.84" font-size="38.2" text-anchor="end">14.4</text>
<text x="1159" y="512.5" font-size="38.2" text-anchor="end">14.6</text>
<text x="1159" y="419.16" font-size="38.2" text-anchor="end">14.8</text>
<text x="1159" y="325.82" font-size="38.2" text-anchor="end">15.0</text>
<text x="1159" y="232.48" font-size="38.2" text-anchor="end">15.2</text>
<text x="1159" y="139.14" font-size="38.2" text-anchor="end">15.4</text>
<text x="1159" y="45.8" font-size="38.2" text-anchor="end">15.6</text>
<text x="1264" y="658" font-size="38.2" text-anchor="middle">5</text>
<text x="1456.1" y="658" font-size="38.2" text-anchor="middle">6</text>
<text x="1648.2" y="658" font-size="38.2" text-anchor="middle">7</text>
<text x="1840.3" y="658" font-size="38.2" text-anchor="middle">8</text>
<text x="631.8" y="1304.4" font-size="38.2" text-anchor="end">20</text>
<text x="631.8" y="1167.44" font-size="38.2" text-anchor="end">40</text>
<text x="631.8" y="1030.48" font-size="38.2" text-anchor="end">60</text>
<text x="631.8" y="893.52" font-size="38.2" text-anchor="end">80</text>
<text x="643.3" y="1456.3" font-size="38.2" text-anchor="middle">0</text>
<text x="796.05" y="1456.3" font-size="38.2" text-anchor="middle">10</text>
<text x="948.8" y="1456.3" font-size="38.2" text-anchor="middle">20</text>
<text x="1101.55" y="1456.3" font-size="38.2" text-anchor="middle">30</text>
<text x="1254.3" y="1456.3" font-size="38.2" text-anchor="middle">40</text>
<text x="1407.05" y="1456.3" font-size="38.2" text-anchor="middle">50</text>
<text><tspan x="420.95" y="696.1" font-size="41">log</tspan><tspan x="483.05" y="696.1" font-size="41">(</tspan><tspan x="497.6" y="696.1" font-size="41" font-style="italic">M</tspan><tspan x="529.55" y="701.9" font-size="30.5">BH</tspan><tspan x="574.1" y="704.7" font-size="60">/</tspan><tspan x="592.5" y="696.1" font-size="41" font-style="italic">M</tspan><tspan x="623" y="704.4" font-size="33" font-family="'DejaVu Serif', serif">⊙</tspan><tspan x="649.25" y="696.1" font-size="41">)</tspan></text>
<text><tspan x="1460.75" y="705" font-size="41">log</tspan><tspan x="1522.85" y="705" font-size="41">(</tspan><tspan x="1537.4" y="705" font-size="41" font-style="italic">M</tspan><tspan x="1569.35" y="710.8" font-size="30.5">BH</tspan><tspan x="1613.9" y="713.6" font-size="60">/</tspan><tspan x="1632.3" y="705" font-size="41" font-style="italic">M</tspan><tspan x="1662.8" y="713.3" font-size="33" font-family="'DejaVu Serif', serif">⊙</tspan><tspan x="1689.05" y="705" font-size="41">)</tspan></text>
<text transform="translate(35.3,480.7) rotate(-90)"><tspan x="-0.75" y="0" font-size="41">log</tspan><tspan x="62.5" y="0" font-size="41" font-style="italic">L</tspan><tspan x="82.9" y="7.3" font-size="30.5">BB,peak</tspan><tspan x="200.75" y="0" font-size="41">(</tspan><tspan x="213.2" y="0" font-size="41">erg</tspan><tspan x="274.95" y="0" font-size="41">s</tspan><tspan x="292" y="-10.5" font-size="38">−</tspan><tspan x="316.5" y="-15.2" font-size="28">1</tspan><tspan x="331.1" y="0" font-size="41">)</tspan></text>
<text transform="translate(1071.4,455.8) rotate(-90)"><tspan x="-0.75" y="0" font-size="41">log</tspan><tspan x="61.55" y="0" font-size="41" font-style="italic">R</tspan><tspan x="86.1" y="6.9" font-size="30.5">BB,peak</tspan><tspan x="204.55" y="0" font-size="41">(</tspan><tspan x="216.4" y="0" font-size="42.4">cm</tspan><tspan x="267.85" y="0" font-size="41">)</tspan></text>
<text transform="translate(568.7,1231.6) rotate(-90)"><tspan x="-1.75" y="0" font-size="41" font-style="italic">t</tspan><tspan x="11.15" y="8.7" font-size="30">1</tspan><tspan x="28.2" y="16.2" font-size="47">/</tspan><tspan x="41.75" y="8.7" font-size="30">2</tspan><tspan x="59.15" y="8.7" font-size="30">,</tspan><tspan x="65.6" y="8.7" font-size="31.4">decline</tspan><tspan x="167.85" y="0" font-size="41">(</tspan><tspan x="180.1" y="0" font-size="41">day</tspan><tspan x="242.75" y="0" font-size="41">)</tspan></text>
<text><tspan x="960.45" y="1500.7" font-size="41" font-style="italic">t</tspan><tspan x="972.95" y="1509.7" font-size="30">1</tspan><tspan x="989.2" y="1516.9" font-size="50">/</tspan><tspan x="1002.25" y="1509.7" font-size="30">2</tspan><tspan x="1017.25" y="1509.7" font-size="30">,</tspan><tspan x="1028.5" y="1509.7" font-size="30">rise</tspan><tspan x="1084.25" y="1500.7" font-size="41">(</tspan><tspan x="1097.2" y="1500.7" font-size="41">day</tspan><tspan x="1159.75" y="1500.7" font-size="41">)</tspan></text>
<text x="481.9" y="763" font-size="42" text-anchor="middle">(a)</text>
<text x="1486.3" y="757" font-size="42" text-anchor="middle">(b)</text>
<text x="1028.6" y="1552.5" font-size="42" text-anchor="middle">(c)</text>
</svg></body></html>
